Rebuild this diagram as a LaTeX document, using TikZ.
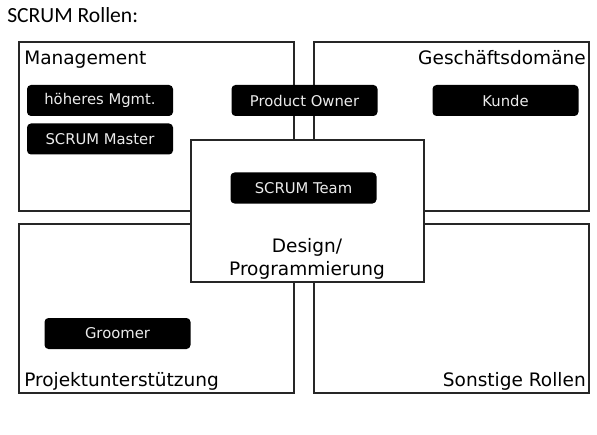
\documentclass[tikz,border=0pt]{standalone}
\usepackage{fontspec}
\setmainfont{DejaVu Sans}
\newfontfamily\titlefont{Carlito}
\tikzset{
  area/.style={draw=black!85,line width=1.3pt,fill=white,inner sep=0pt},
  role/.style={fill=black,rounded corners=3pt,minimum width=109.5pt,minimum height=23.25pt,
    inner sep=0pt,text=white!92!black,font=\fontsize{11.1}{13}\selectfont},
  arealabel/.style={font=\fontsize{13.9}{16.7}\selectfont,inner sep=0pt}
}
\begin{document}
\begin{tikzpicture}[x=0.75pt,y=-0.75pt]
    \useasboundingbox (0,0) rectangle (597,435);
    \node[anchor=base west,inner sep=0pt,font=\titlefont\fontsize{16.2}{19}\selectfont] (title) at (7,23) {SCRUM Rollen:};

    \node[area,minimum width=206.25pt,minimum height=126.75pt] (mgmt) at (156.5,126.5) {};
    \node[area,minimum width=206.25pt,minimum height=126.75pt] (domain) at (451.5,126.5) {};
    \node[area,minimum width=206.25pt,minimum height=126.75pt] (support) at (156.5,308.5) {};
    \node[area,minimum width=206.25pt,minimum height=126.75pt] (other) at (451.5,308.5) {};
    \node[area,minimum width=174.75pt,minimum height=106.5pt] (design) at (307.5,211) {};

    \node[arealabel,anchor=base west] (mgmtlabel) at (24,65) {Management};
    \node[arealabel,anchor=base east] (domainlabel) at (586,65) {Geschäftsdomäne};
    \node[arealabel,anchor=base west] (supportlabel) at (24,386) {Projektunterstützung};
    \node[arealabel,anchor=base east] (otherlabel) at (586,386) {Sonstige Rollen};
    \node[arealabel,align=center] (designlabel) at (307,259) {Design/\\Programmierung};

    \node[role] (upper) at (100,100.5) {höheres Mgmt.};
    \node[role] (master) at (100,139) {SCRUM Master};
    \node[role] (owner) at (304.5,100.5) {Product Owner};
    \node[role] (customer) at (505.5,100.5) {Kunde};
    \node[role] (team) at (303.5,188) {SCRUM Team};
    \node[role] (groomer) at (117.5,333.5) {Groomer};

  \end{tikzpicture}
\end{document}
